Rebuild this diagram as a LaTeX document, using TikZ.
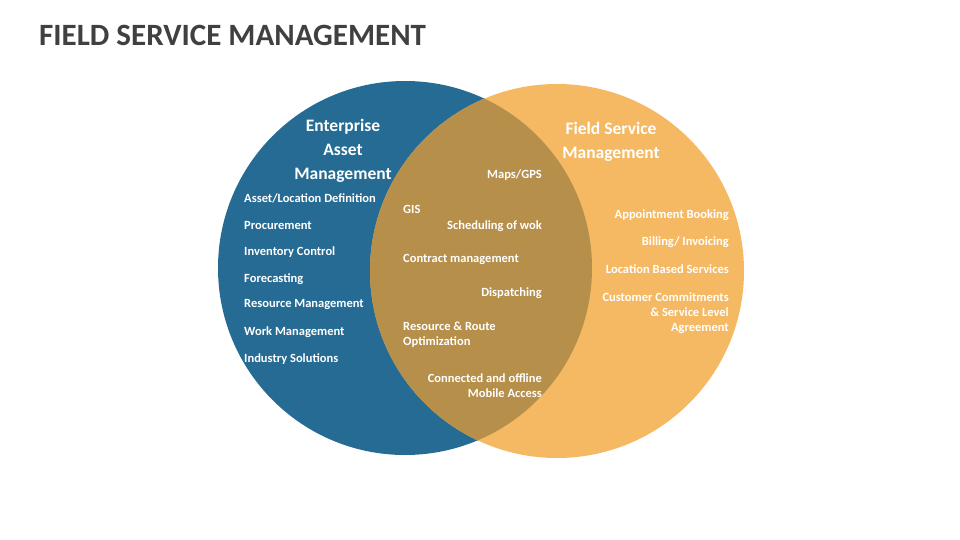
\documentclass[tikz,border=0pt]{standalone}
\usepackage{fontspec}
\setmainfont{Carlito}
\definecolor{eblue}{RGB}{38,107,148}
\definecolor{forange}{RGB}{245,185,99}
\definecolor{mix}{RGB}{182,143,74}
\definecolor{ttl}{RGB}{64,64,64}
\begin{document}
\begin{tikzpicture}[x=1pt,y=-1pt,
  it/.style={text=white,font=\fontsize{12.5}{15}\selectfont\bfseries,inner sep=0pt},
  itl/.style={it,anchor=west,align=left},
  itr/.style={it,anchor=east,align=right},
  hd/.style={text=white,font=\fontsize{17.5}{24}\selectfont\bfseries,align=center,inner sep=0pt}]
\useasboundingbox (0,0) rectangle (960,540);
\node[anchor=west,text=ttl,font=\fontsize{31}{36}\selectfont\bfseries,inner sep=0pt] (title) at (39,35) {FIELD SERVICE MANAGEMENT};
\fill[eblue] (405,268) circle (187);
\fill[forange] (557,271) circle (187);
\begin{scope}
\clip (405,268) circle (187);
\fill[mix] (557,271) circle (187);
\end{scope}
\node[hd] (h1) at (343,151) {Enterprise\\Asset\\Management};
\node[hd] (h2) at (611,142) {Field Service\\Management};
\node[itl] (a1) at (244,198) {Asset/Location Definition};
\node[itl] (a2) at (244,225) {Procurement};
\node[itl] (a3) at (244,252) {Inventory Control};
\node[itl] (a4) at (244,279) {Forecasting};
\node[itl] (a5) at (244,305) {Resource Management};
\node[itl] (a6) at (244,332) {Work Management};
\node[itl] (a7) at (244,359) {Industry Solutions};
\node[itr] (c1) at (542,175) {Maps/GPS};
\node[itl] (c2) at (403,209) {GIS};
\node[itr] (c3) at (542,226) {Scheduling of wok};
\node[itl] (c4) at (403,259) {Contract management};
\node[itr] (c5) at (542,293) {Dispatching};
\node[itl] (c6) at (403,335) {Resource \& Route\\Optimization};
\node[itr] (c7) at (542,386) {Connected and offline\\Mobile Access};
\node[itr] (b1) at (729,215) {Appointment Booking};
\node[itr] (b2) at (729,242) {Billing/ Invoicing};
\node[itr] (b3) at (729,269) {Location Based Services};
\node[itr] (b4) at (729,313) {Customer Commitments\\\& Service Level\\Agreement};
\end{tikzpicture}
\end{document}
